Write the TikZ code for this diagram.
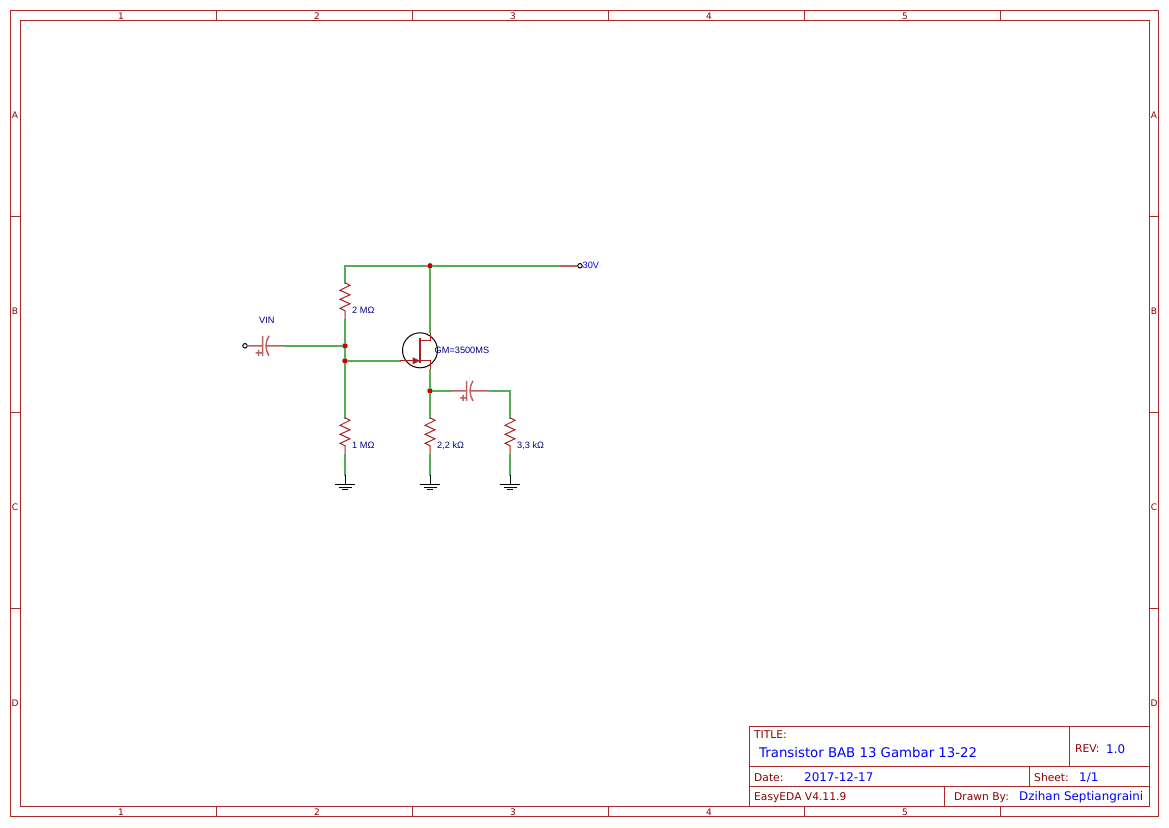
\documentclass[tikz,border=0pt]{standalone}
\usepackage{fontspec}
\setmainfont{DejaVu Sans}
\newfontfamily\partfont{Liberation Sans}
\usetikzlibrary{arrows.meta}
\definecolor{framered}{HTML}{A82A2A}
\definecolor{textred}{HTML}{8F0000}
\definecolor{wiregreen}{HTML}{55AE55}
\definecolor{partred}{HTML}{A82020}
\definecolor{leadred}{HTML}{BC6060}
\definecolor{partnavy}{HTML}{000080}
\begin{document}
\begin{tikzpicture}[x=1pt,y=-1pt,
    frameline/.style ={draw=framered, line width=1pt},
    framelabel/.style ={text=textred, inner sep=0pt, font=\fontsize{9}{11}\selectfont},
    titlelabel/.style ={text=textred, inner sep=0pt, anchor=west, font=\fontsize{10.7}{13}\selectfont},
    titlevalue/.style ={text=blue, inner sep=0pt, anchor=west, font=\fontsize{11.9}{14}\selectfont},
    wire/.style ={draw=wiregreen, line width=1.5pt, line cap=rect},
    part/.style ={draw=partred, line width=1pt},
    lead/.style ={draw=leadred, line width=1.5pt},
    partlabel/.style ={text=partnavy, inner sep=0pt, anchor=west, font=\partfont\fontsize{9.2}{11}\selectfont},
    junction/.style ={circle, fill=red!80!black, inner sep=0pt, minimum size=5.5pt},
    terminal/.style ={circle, draw=black, fill=white, line width=1pt, inner sep=0pt, minimum size=4.5pt},
    resistor/.style ={part, to path={-- ++(0,0) -- ++(5,2.5) -- ++(-10,5) -- ++(10,4.5) -- ++(-10,4.5) -- ++(10,4.5) -- ++(-10,4.5) -- ++(5,2.5) -- (\tikztotarget)}},
    capacitor/.style ={lead, to path={-- ++(15.5,0) ++(0,-10) -- ++(0,20) ++(6.5,0) .. controls +(-4,-6) and +(-4,6) .. ++(0,-20) ++(-3,10) -- (\tikztotarget) ++(-29.5,7) -- ++(6,0) ++(-3,-3) -- ++(0,6)}},
    ground/.style ={draw=black, line width=1pt, to path={-- (\tikztotarget) ++(-10,0) -- ++(20,0) ++(-16.5,2.5) -- ++(13,0) ++(-9.5,2.5) -- ++(6,0)}}]
   \useasboundingbox (0,0.2) rectangle (1169,827.2);
   \draw[frameline] (10,11) rectangle (1158,817);
   \draw[frameline] (20,21) rectangle (1149,807);
   \draw[frameline] (216,11) -- (216,21) (412,11) -- (412,21) (608,11) -- (608,21) (804,11) -- (804,21) (1000,11) -- (1000,21);
   \draw[frameline] (216,807) -- (216,817) (412,807) -- (412,817) (608,807) -- (608,817) (804,807) -- (804,817) (1000,807) -- (1000,817);
   \draw[frameline] (10,217) -- (20,217) (10,413) -- (20,413) (10,609) -- (20,609);
   \draw[frameline] (1149,217) -- (1158,217) (1149,413) -- (1158,413) (1149,609) -- (1158,609);
   \node[framelabel] (top1) at (121,16) {1};
   \node[framelabel] (top2) at (317,16) {2};
   \node[framelabel] (top3) at (513,16) {3};
   \node[framelabel] (top4) at (709,16) {4};
   \node[framelabel] (top5) at (905,16) {5};
   \node[framelabel] (bottom1) at (121,812) {1};
   \node[framelabel] (bottom2) at (317,812) {2};
   \node[framelabel] (bottom3) at (513,812) {3};
   \node[framelabel] (bottom4) at (709,812) {4};
   \node[framelabel] (bottom5) at (905,812) {5};
   \node[framelabel] (leftA) at (15,115.5) {A};
   \node[framelabel] (leftB) at (15,311.5) {B};
   \node[framelabel] (leftC) at (15,507.5) {C};
   \node[framelabel] (leftD) at (15,703.5) {D};
   \node[framelabel] (rightA) at (1154,115.5) {A};
   \node[framelabel] (rightB) at (1154,311.5) {B};
   \node[framelabel] (rightC) at (1154,507.5) {C};
   \node[framelabel] (rightD) at (1154,703.5) {D};
   \draw[frameline, fill=white] (749,727) rectangle (1149,807);
   \draw[frameline] (749,767) -- (1149,767) (749,787) -- (1149,787);
   \draw[frameline] (1069,727) -- (1069,767) (1029,767) -- (1029,787) (944,787) -- (944,807);
   \node[titlelabel] (titlehead) at (754,735) {TITLE:};
   \node[titlevalue, font=\fontsize{13.3}{16}\selectfont] (titletext) at (759,752.5) {Transistor BAB 13 Gambar 13-22};
   \node[titlelabel] (revhead) at (1075,749) {REV:};
   \node[titlevalue] (revtext) at (1106,749.5) {1.0};
   \node[titlelabel] (datehead) at (754,778) {Date:};
   \node[titlevalue] (datetext) at (804,777.5) {2017-12-17};
   \node[titlelabel] (sheethead) at (1034,778) {Sheet:};
   \node[titlevalue] (sheettext) at (1079,777.5) {1/1};
   \node[titlelabel] (version) at (754,798) {EasyEDA V4.11.9};
   \node[titlelabel] (drawnhead) at (954,798) {Drawn By:};
   \node[titlevalue] (drawntext) at (1019,797.5) {Dzihan Septiangraini};
   \coordinate (topleft) at (345,266);
   \node[junction] (topnode) at (430,266) {};
   \coordinate (supplylead) at (560,266);
   \node[terminal] (supply) at (580,266) {};
   \node[terminal] (vin) at (245,346) {};
   \coordinate (C1a) at (247,346);
   \coordinate (C1b) at (285,346);
   \node[junction] (gatetop) at (345,346) {};
   \node[junction] (gatenode) at (345,361) {};
   \coordinate (R1a) at (345,283);
   \coordinate (R1b) at (345,320);
   \coordinate (R2a) at (345,418);
   \coordinate (R2b) at (345,455);
   \coordinate (R3a) at (430,418);
   \coordinate (R3b) at (430,455);
   \coordinate (R4a) at (510,418);
   \coordinate (R4b) at (510,455);
   \coordinate (G1a) at (345,475);
   \coordinate (G1b) at (345,485);
   \coordinate (G2a) at (430,475);
   \coordinate (G2b) at (430,485);
   \coordinate (G3a) at (510,475);
   \coordinate (G3b) at (510,485);
   \node[circle, draw=black, line width=1pt, minimum size=35pt, inner sep=0pt] (Q1) at (420,350.5) {};
   \coordinate (Q1G) at (400,361);
   \coordinate (Q1Gtip) at (420,361);
   \coordinate (Q1Dtop) at (430,332);
   \coordinate (Q1Dmid) at (430,341);
   \coordinate (Q1Dbar) at (419.5,341);
   \coordinate (Q1Stop) at (419.5,361);
   \coordinate (Q1Smid) at (430,361);
   \coordinate (Q1Sbot) at (430,370);
   \coordinate (Q1Bara) at (419.5,338);
   \coordinate (Q1Barb) at (419.5,363);
   \node[junction] (sourcenode) at (430,391) {};
   \coordinate (C2a) at (451,391);
   \coordinate (C2b) at (489.5,391);
   \coordinate (loadcorner) at (510,391);
   \draw[wire] (topleft) to (topnode);
   \draw[wire] (topnode) to (supplylead);
   \draw[lead] (supplylead) to (supply);
   \draw[wire] (topleft) to (R1a);
   \draw[resistor] (R1a) to (R1b);
   \draw[wire] (R1b) to (gatetop);
   \draw[wire] (gatetop) to (gatenode);
   \draw[wire] (gatenode) to (R2a);
   \draw[resistor] (R2a) to (R2b);
   \draw[wire] (R2b) to (G1a);
   \draw[ground] (G1a) to (G1b);
   \draw[lead] (vin) to (C1a);
   \draw[capacitor] (C1a) to (C1b);
   \draw[wire] (C1b) to (gatetop);
   \draw[wire] (gatenode) to (Q1G);
   \draw[part, -{Triangle[length=7.5pt,width=7pt]}] (Q1G) to (Q1Gtip);
   \draw[partred, line width=2pt] (Q1Bara) to (Q1Barb);
   \draw[part] (Q1Dbar) to (Q1Dmid) to (Q1Dtop);
   \draw[part] (Q1Stop) to (Q1Smid) to (Q1Sbot);
   \draw[wire] (topnode) to (Q1Dtop);
   \draw[wire] (Q1Sbot) to (sourcenode);
   \draw[wire] (sourcenode) to (R3a);
   \draw[resistor] (R3a) to (R3b);
   \draw[wire] (R3b) to (G2a);
   \draw[ground] (G2a) to (G2b);
   \draw[wire] (sourcenode) to (C2a);
   \draw[capacitor] (C2a) to (C2b);
   \draw[wire] (C2b) to (loadcorner) to (R4a);
   \draw[resistor] (R4a) to (R4b);
   \draw[wire] (R4b) to (G3a);
   \draw[ground] (G3a) to (G3b);
   \node[partlabel] (vinlabel) at (259,320.5) {VIN};
   \node[partlabel, text=blue] (supplylabel) at (582.5,266) {30V};
   \node[partlabel] (R1label) at (352,310.5) {2 MΩ};
   \node[partlabel] (R2label) at (352,445.5) {1 MΩ};
   \node[partlabel] (R3label) at (437,445.5) {2,2 kΩ};
   \node[partlabel] (R4label) at (517,445.5) {3,3 kΩ};
   \node[partlabel] (Q1label) at (434.5,351) {GM=3500MS};
 \end{tikzpicture}
\end{document}
